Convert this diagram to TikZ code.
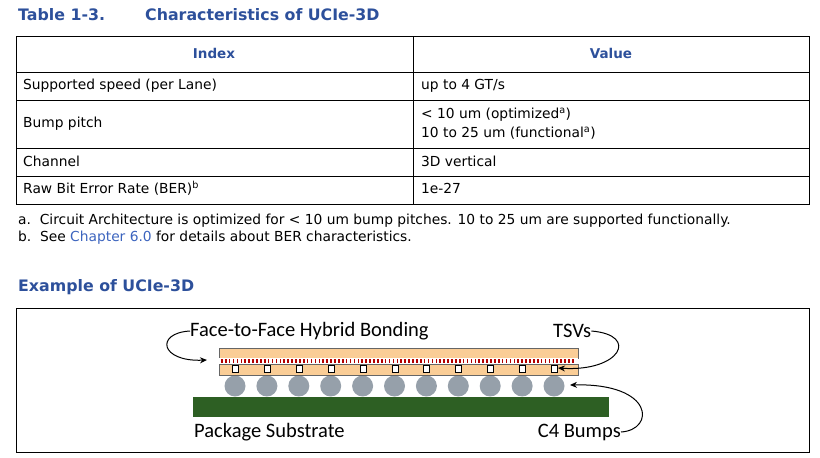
\documentclass[tikz,border=0pt]{standalone}
\usepackage{fontspec}
\setmainfont{DejaVu Sans}
\newfontfamily\calib{Carlito}
\usetikzlibrary{arrows.meta}
\definecolor{hblue}{RGB}{45,80,155}
\definecolor{lblue}{RGB}{60,100,190}
\definecolor{die}{RGB}{250,205,150}
\definecolor{sub}{RGB}{45,95,35}
\definecolor{bump}{RGB}{150,160,170}
\tikzset{
 cell/.style={anchor=west,font=\fontsize{13.8}{15}\selectfont,inner sep=0pt},
 hdr/.style={font=\bfseries\fontsize{13.5}{15}\selectfont,text=hblue,inner sep=0pt},
 ttl/.style={anchor=west,font=\bfseries\fontsize{15.8}{17}\selectfont,text=hblue,inner sep=0pt},
 lab/.style={font=\calib\fontsize{20.5}{22}\selectfont,inner sep=0pt},
 arr/.style={-{Stealth[length=7pt,width=6pt]},line width=1pt},
}
\begin{document}
\begin{tikzpicture}[x=1pt,y=-1pt]
\useasboundingbox (0,0) rectangle (820,458);
\node[ttl] (t1) at (18,15) {Table 1-3.};
\node[ttl] (t2) at (145,15) {Characteristics of UCIe-3D};
% table
\draw[line width=0.8pt] (16,36) rectangle (809,204);
\foreach \y in {72,100,148,176} \draw[line width=0.8pt] (16,\y) -- (809,\y);
\draw[line width=0.8pt] (413,36) -- (413,204);
\node[hdr] (h1) at (214,53) {Index};
\node[hdr] (h2) at (611,53) {Value};
\node[cell] (c1) at (23,86) {Supported speed (per Lane)};
\node[cell] (v1) at (421,86) {up to 4 GT/s};
\node[cell] (c2) at (23,124) {Bump pitch};
\node[cell] (v2a) at (421,115) {< 10 um (optimized\textsuperscript{a})};
\node[cell] (v2b) at (421,133) {10 to 25 um (functional\textsuperscript{a})};
\node[cell] (c3) at (23,161) {Channel};
\node[cell] (v3) at (421,161) {3D vertical};
\node[cell] (c4) at (23,188) {Raw Bit Error Rate (BER)\textsuperscript{b}};
\node[cell] (v4) at (421,188) {1e-27};
\node[cell] (fa) at (18,221) {a.\ \ Circuit Architecture is optimized for < 10 um bump pitches. 10 to 25 um are supported functionally.};
\node[cell] (fb) at (18,238) {b.\ \ See \textcolor{lblue}{Chapter 6.0} for details about BER characteristics.};
\node[ttl] (t3) at (18,287) {Example of UCIe-3D};
% example box
\draw[line width=0.8pt] (16,308) rectangle (809,452);
\fill[sub] (193,397) rectangle (609,417);
\foreach \i in {0,...,10} {
  \fill[bump] (235+31.9*\i,386) circle (10.5);
}
\draw[fill=die,draw=black!60] (219,364) rectangle (578,375);
\draw[fill=die,draw=black!60] (219,348) rectangle (578,358);
\fill[white] (219,358) rectangle (578,364);
\foreach \k in {0,...,90} {
  \fill[red!70!black] (221+3.9*\k,359) rectangle ++(1.6,4);
}
\foreach \i in {0,...,10} {
  \draw[line width=1pt,fill=white] (232.5+31.9*\i,365.5) rectangle ++(6,7);
}
\node[lab,anchor=west] (f2f) at (190,331) {Face-to-Face Hybrid Bonding};
\node[lab,anchor=west] (tsv) at (553,331) {TSVs};
\node[lab,anchor=west] (pkg) at (194,432) {Package Substrate};
\node[lab,anchor=east] (c4) at (621,432) {C4 Bumps};
\coordinate (f2ftip) at (207,360);
\coordinate (tsvtip) at (558,368);
\coordinate (c4tip) at (570,385);
\draw[arr] (f2f.west) .. controls (155,333) and (160,362) .. (f2ftip);
\draw[arr] (tsv.east) .. controls (640,335) and (620,372) .. (tsvtip);
\draw[arr] (c4.east) .. controls (655,430) and (655,383) .. (c4tip);
\end{tikzpicture}
\end{document}
